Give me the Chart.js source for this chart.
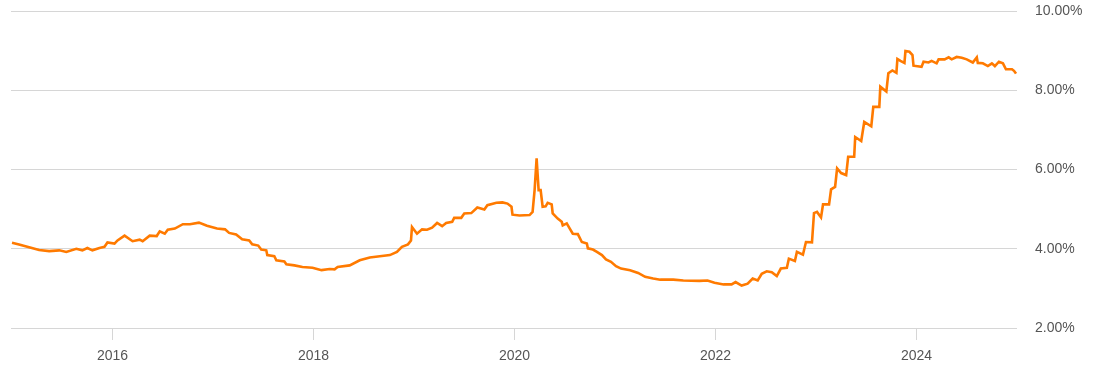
<!DOCTYPE html>
<html>
<head>
<meta charset="utf-8">
<script src="https://cdn.jsdelivr.net/npm/chart.js@4"></script>
<style>
  body { margin: 0; background: #fff; }
  #wrap { width: 1094px; height: 365px; }
</style>
</head>
<body>
<div id="wrap"><canvas id="myChart"></canvas></div>
<script>
// dates as decimal years
let years = [
  2015.00, 2015.07, 2015.17, 2015.27, 2015.37, 2015.47, 2015.54, 2015.64, 2015.70, 2015.75,
  2015.80, 2015.87, 2015.92, 2015.95, 2016.02, 2016.05, 2016.12, 2016.20, 2016.27, 2016.30,
  2016.37, 2016.44, 2016.47, 2016.52, 2016.55, 2016.62, 2016.70, 2016.77, 2016.86, 2016.94,
  2017.04, 2017.12, 2017.16, 2017.23, 2017.29, 2017.36, 2017.39, 2017.45, 2017.48, 2017.53,
  2017.54, 2017.61, 2017.63, 2017.71, 2017.73, 2017.81, 2017.89, 2017.99, 2018.08, 2018.16,
  2018.21, 2018.24, 2018.36, 2018.46, 2018.56, 2018.66, 2018.76, 2018.83, 2018.88, 2018.94,
  2018.97, 2018.98, 2019.03, 2019.08, 2019.13, 2019.18, 2019.23, 2019.28, 2019.32, 2019.38,
  2019.40, 2019.47, 2019.50, 2019.57, 2019.63, 2019.70, 2019.73, 2019.82, 2019.88, 2019.93,
  2019.97, 2019.98, 2020.05, 2020.15, 2020.18, 2020.20, 2020.22, 2020.24, 2020.26, 2020.28,
  2020.31, 2020.33, 2020.37, 2020.38, 2020.43, 2020.47, 2020.48, 2020.52, 2020.55, 2020.58,
  2020.63, 2020.67, 2020.72, 2020.73, 2020.78, 2020.82, 2020.87, 2020.91, 2020.96, 2021.01,
  2021.06, 2021.15, 2021.23, 2021.30, 2021.38, 2021.45, 2021.58, 2021.68, 2021.84, 2021.92,
  2021.99, 2022.08, 2022.16, 2022.20, 2022.26, 2022.32, 2022.37, 2022.42, 2022.46, 2022.51,
  2022.56, 2022.61, 2022.65, 2022.71, 2022.73, 2022.79, 2022.81, 2022.87, 2022.90, 2022.96,
  2022.98, 2023.01, 2023.05, 2023.07, 2023.13, 2023.15, 2023.19, 2023.21, 2023.25, 2023.30,
  2023.32, 2023.38, 2023.39, 2023.45, 2023.48, 2023.55, 2023.57, 2023.63, 2023.64, 2023.70,
  2023.72, 2023.76, 2023.80, 2023.81, 2023.84, 2023.88, 2023.89, 2023.93, 2023.96, 2023.97,
  2024.05, 2024.07, 2024.12, 2024.15, 2024.20, 2024.22, 2024.28, 2024.32, 2024.35, 2024.40,
  2024.45, 2024.50, 2024.56, 2024.60, 2024.61, 2024.66, 2024.71, 2024.75, 2024.78, 2024.82,
  2024.86, 2024.89, 2024.95, 2024.97, 2024.99
];

// rate in percent
let rates = [
  4.15, 4.11, 4.04, 3.97, 3.94, 3.96, 3.92, 4.00, 3.96, 4.02,
  3.96, 4.02, 4.05, 4.16, 4.13, 4.21, 4.33, 4.19, 4.23, 4.19,
  4.33, 4.32, 4.44, 4.38, 4.48, 4.51, 4.62, 4.62, 4.66, 4.58,
  4.51, 4.49, 4.40, 4.36, 4.24, 4.21, 4.11, 4.08, 3.98, 3.96,
  3.84, 3.81, 3.71, 3.68, 3.61, 3.58, 3.54, 3.52, 3.46, 3.49,
  3.48, 3.54, 3.58, 3.71, 3.78, 3.81, 3.84, 3.92, 4.05, 4.11,
  4.21, 4.55, 4.38, 4.49, 4.48, 4.53, 4.65, 4.57, 4.65, 4.68,
  4.78, 4.78, 4.89, 4.90, 5.04, 4.99, 5.10, 5.16, 5.17, 5.14,
  5.06, 4.86, 4.84, 4.85, 4.93, 5.48, 6.28, 5.48, 5.48, 5.06,
  5.07, 5.16, 5.12, 4.89, 4.76, 4.68, 4.59, 4.64, 4.51, 4.38,
  4.37, 4.17, 4.13, 4.01, 3.98, 3.92, 3.84, 3.73, 3.67, 3.56,
  3.50, 3.46, 3.39, 3.29, 3.25, 3.22, 3.22, 3.20, 3.19, 3.20,
  3.14, 3.10, 3.10, 3.16, 3.07, 3.12, 3.25, 3.20, 3.37, 3.43,
  3.41, 3.31, 3.50, 3.52, 3.75, 3.69, 3.92, 3.85, 4.17, 4.16,
  4.90, 4.93, 4.79, 5.12, 5.12, 5.50, 5.56, 6.03, 5.91, 5.86,
  6.32, 6.32, 6.82, 6.72, 7.20, 7.09, 7.58, 7.58, 8.09, 7.97,
  8.43, 8.50, 8.44, 8.79, 8.74, 8.69, 8.99, 8.97, 8.89, 8.62,
  8.59, 8.72, 8.70, 8.74, 8.68, 8.78, 8.78, 8.83, 8.78, 8.84,
  8.82, 8.78, 8.70, 8.83, 8.69, 8.68, 8.61, 8.68, 8.61, 8.72,
  8.68, 8.53, 8.53, 8.49, 8.42
];

let xTicks = [2016, 2018, 2020, 2022, 2024];
let yTicks = [2, 4, 6, 8, 10];

let points = years.map((y, i) => ({ x: y, y: rates[i] }));

const ctx = document.getElementById("myChart");
new Chart(ctx, {
  type: "line",
  data: {
    datasets: [
      {
        data: points,
        borderColor: "#ff7a00",
        borderWidth: 2.6,
        pointRadius: 0,
        tension: 0,
        fill: false,
      },
    ],
  },
  options: {
    responsive: true,
    maintainAspectRatio: false,
    animation: false,
    layout: { padding: { left: 11, top: 11, right: 0, bottom: 0 } },
    plugins: { legend: { display: false }, tooltip: { enabled: false } },
    scales: {
      x: {
        type: "linear",
        min: 2014.99,
        max: 2025.0,
        afterBuildTicks: (scale) => {
          scale.ticks = xTicks.map((v) => ({ value: v }));
        },
        afterFit: (scale) => {
          scale.height = 37;
          scale.paddingLeft = 0;
          scale.paddingRight = 0;
        },
        grid: {
          drawOnChartArea: false,
          drawTicks: true,
          tickLength: 12,
          color: "#d6d6d6",
        },
        border: { display: false },
        ticks: {
          padding: 8,
          color: "#555",
          font: { family: "Liberation Sans, Arial", size: 14 },
          maxRotation: 0,
          callback: (v) => String(v),
        },
      },
      y: {
        position: "right",
        min: 2,
        max: 10,
        afterBuildTicks: (scale) => {
          scale.ticks = yTicks.map((v) => ({ value: v }));
        },
        afterFit: (scale) => {
          scale.width = 77;
          scale.paddingTop = 0;
          scale.paddingBottom = 0;
        },
        grid: { color: "#d6d6d6", drawTicks: false, lineWidth: 1 },
        border: { display: false },
        ticks: {
          padding: 18,
          color: "#555",
          font: { family: "Liberation Sans, Arial", size: 14 },
          callback: (v) => v.toFixed(2) + "%",
        },
      },
    },
  },
});
</script>
</body>
</html>
